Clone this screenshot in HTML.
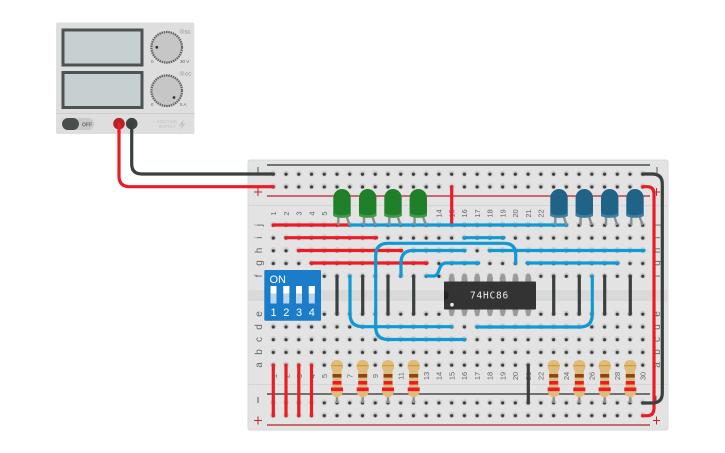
<!DOCTYPE html>
<html><head><meta charset="utf-8"><style>
html,body{margin:0;padding:0;background:#fff;width:725px;height:453px;overflow:hidden}
svg{display:block}
text{font-family:"Liberation Sans",sans-serif}
</style></head><body>
<svg width="725" height="453" viewBox="0 0 725 453" xmlns="http://www.w3.org/2000/svg">
<defs>
<pattern id="h" width="12.74" height="12.74" patternUnits="userSpaceOnUse">
<circle cx="6.37" cy="6" r="3" fill="#cdcdcd"/><circle cx="6.37" cy="6.6" r="1.6" fill="#3a3a3a"/>
</pattern>
<g id="res">
<line x1="0" y1="365" x2="0" y2="403" stroke="#8a8f8f" stroke-width="2.4"/>
<path d="M0 360C4 360 6 362 6 366V368C6 369 4.5 370 4.500 372V385C4.500 387 6 388 6 390V392C6 394 3 397 0 397.500C-3 397 -6 394 -6 392V390C-6 388 -4.500 387 -4.500 385V372C-4.500 370 -6 369 -6 368V366C-6 362 -4 360 0 360Z" fill="#e1bb7c"/>
<rect x="-6" y="365" width="12" height="1.200" fill="#c9a227"/>
<rect x="-4.500" y="374" width="9" height="3.600" fill="#8b4513"/>
<rect x="-4.500" y="381" width="9" height="3.600" fill="#ed1c24"/>
<rect x="-6" y="387.500" width="12" height="3.600" fill="#ed1c24"/>
</g>
<g id="ledg">
<path d="M-3.700 216V225M4.500 216L7.500 225" stroke="#8a8f8f" stroke-width="2.400" fill="none"/>
<path d="M-8.700 216V198C-8.700 192.500 -4.500 189 0 189C4.500 189 8.700 192.500 8.700 198V216C4 218 -4 218 -8.700 216Z" fill="#20802a"/>
<path d="M-8.700 213C-4 216 4 216 8.700 213V216C4 218.500 -4 218.500 -8.700 216Z" fill="#3f9a48"/>
</g>
<g id="ledb">
<path d="M-3.700 216V225M4.500 216L7.500 225" stroke="#8a8f8f" stroke-width="2.400" fill="none"/>
<path d="M-8.700 216V198C-8.700 192.500 -4.500 189 0 189C4.500 189 8.700 192.500 8.700 198V216C4 218 -4 218 -8.700 216Z" fill="#1f6488"/>
<path d="M-8.700 213C-4 216 4 216 8.700 213V216C4 218.500 -4 218.500 -8.700 216Z" fill="#3d7fa0"/>
</g>
<path id="pin" d="M-3 282V278L-1.500 274H1.500L3 278V282Z" fill="#9a9a9a"/>
<path id="pinb" d="M-3 309V311L-1.300 316H1.300L3 311V309Z" fill="#9a9a9a"/>
</defs>

<!-- Power supply -->
<rect x="56" y="22.500" width="138.500" height="111.500" rx="2" fill="#dedede"/>
<rect x="56" y="113" width="138.500" height="1" fill="#cfcfcf"/>
<rect x="63" y="30" width="79" height="35" fill="#c7d0d1" stroke="#4d5352" stroke-width="3"/>
<rect x="63" y="72.500" width="79" height="35" fill="#c7d0d1" stroke="#4d5352" stroke-width="3"/>
<circle cx="166.700" cy="47.300" r="15.300" fill="#c6c6c6" stroke="#5f6363" stroke-width="2.200" stroke-dasharray="1.500 0.800"/>
<circle cx="166.700" cy="47.300" r="13.500" fill="#c6c6c6"/>
<circle cx="156.800" cy="47.300" r="1.400" fill="#333"/>
<circle cx="166.700" cy="90.700" r="15.300" fill="#c6c6c6" stroke="#5f6363" stroke-width="2.200" stroke-dasharray="1.500 0.800"/>
<circle cx="166.700" cy="90.700" r="13.500" fill="#c6c6c6"/>
<circle cx="174" cy="97.500" r="1.400" fill="#333"/>
<circle cx="182" cy="31.500" r="2.500" fill="#c4c4c4"/><text x="185" y="33.500" font-size="4.500" fill="#777">5C</text>
<circle cx="182" cy="73.500" r="2.500" fill="#c4c4c4"/><text x="185" y="75.500" font-size="4.500" fill="#777">CC</text>
<text x="151" y="63" font-size="4.500" fill="#666">0</text><text x="180" y="63" font-size="4.500" fill="#666">30 V</text>
<text x="151" y="106" font-size="4.500" fill="#666">0</text><text x="180" y="106" font-size="4.500" fill="#666">5 A</text>
<rect x="62" y="118" width="32" height="12" rx="6" fill="#c9c9c9"/>
<rect x="62" y="118" width="17" height="12" rx="6" fill="#4a4d4d"/>
<text x="82" y="126.500" font-size="5" font-weight="bold" fill="#666">OFF</text>
<circle cx="119" cy="123.700" r="5.800" fill="#b5222a"/>
<circle cx="131.700" cy="123.700" r="5.800" fill="#3d4242"/>
<text x="167" y="123" font-size="4.500" fill="#c2c2c2" text-anchor="middle">VOLTAGE</text>
<text x="167" y="128" font-size="4.500" fill="#c2c2c2" text-anchor="middle">SUPPLY</text>
<path d="M184 119L179 125.500H182L180 130L185.500 123.500H182.500Z" fill="#c4c4c4"/>

<!-- Breadboard -->
<rect x="248" y="160" width="420" height="270" rx="2" fill="#e3e3e3" stroke="#d9d9d9" stroke-width="1"/>
<rect x="248.500" y="205" width="419" height="1" fill="#d6d6d6"/>
<rect x="248.500" y="384" width="419" height="1" fill="#d6d6d6"/>
<rect x="248.500" y="290" width="419" height="11" fill="#d9d9d9"/>
<line x1="267" y1="165" x2="650" y2="165" stroke="#2f2f2f" stroke-width="1.200"/>
<line x1="267" y1="196" x2="650" y2="196" stroke="#b5222a" stroke-width="1.200"/>
<line x1="267" y1="394" x2="650" y2="394" stroke="#2f2f2f" stroke-width="1.200"/>
<line x1="267" y1="425" x2="650" y2="425" stroke="#b5222a" stroke-width="1.200"/>
<g stroke="#555" stroke-width="1" fill="none">
<path d="M258 167V175"/><path d="M657 167V175"/><path d="M258 397V403"/><path d="M656 396V404"/>
</g>
<g stroke="#c1272d" stroke-width="1" fill="none">
<path d="M254 192H262M258 188V196"/><path d="M653 192H660M656.500 188V196"/>
<path d="M254 420.500H262M258 416.500V424.500"/><path d="M653 420.500H660M656.500 416.500V424.500"/>
</g>
<g transform="translate(266.930,167.600)"><rect width="382.200" height="25.480" fill="url(#h)"/></g>
<g transform="translate(266.930,218.700)"><rect width="382.200" height="63.700" fill="url(#h)"/></g>
<g transform="translate(266.930,307.600)"><rect width="382.200" height="63.700" fill="url(#h)"/></g>
<g transform="translate(266.930,396.300)"><rect width="382.200" height="25.480" fill="url(#h)"/></g>

<!-- Labels -->
<g font-size="7.500" fill="#666" text-anchor="middle">
<text transform="translate(276,213.500) rotate(-90)">1</text>
<text transform="translate(288.800,213.500) rotate(-90)">2</text>
<text transform="translate(301.500,213.500) rotate(-90)">3</text>
<text transform="translate(314.300,213.500) rotate(-90)">4</text>
<text transform="translate(327,213.500) rotate(-90)">5</text>
<text transform="translate(441.500,213.500) rotate(-90)">14</text>
<text transform="translate(454.300,213.500) rotate(-90)">15</text>
<text transform="translate(467,213.500) rotate(-90)">16</text>
<text transform="translate(479.800,213.500) rotate(-90)">17</text>
<text transform="translate(492.500,213.500) rotate(-90)">18</text>
<text transform="translate(505.300,213.500) rotate(-90)">19</text>
<text transform="translate(518,213.500) rotate(-90)">20</text>
<text transform="translate(530.800,213.500) rotate(-90)">21</text>
<text transform="translate(543.500,213.500) rotate(-90)">22</text>
<text transform="translate(327,376) rotate(-90)">5</text>
<text transform="translate(352.500,376) rotate(-90)">7</text>
<text transform="translate(378,376) rotate(-90)">9</text>
<text transform="translate(403.500,376) rotate(-90)">11</text>
<text transform="translate(429,376) rotate(-90)">13</text>
<text transform="translate(441.500,376) rotate(-90)">14</text>
<text transform="translate(454.300,376) rotate(-90)">15</text>
<text transform="translate(467,376) rotate(-90)">16</text>
<text transform="translate(479.800,376) rotate(-90)">17</text>
<text transform="translate(492.500,376) rotate(-90)">18</text>
<text transform="translate(505.300,376) rotate(-90)">19</text>
<text transform="translate(518,376) rotate(-90)">20</text>
<text transform="translate(530.800,376) rotate(-90)">21</text>
<text transform="translate(543.500,376) rotate(-90)">22</text>
<text transform="translate(569,376) rotate(-90)">24</text>
<text transform="translate(594.500,376) rotate(-90)">26</text>
<text transform="translate(620,376) rotate(-90)">28</text>
<text transform="translate(645.500,376) rotate(-90)">30</text>
<text transform="translate(277,376) rotate(-90)">1</text>
<text transform="translate(289.500,376) rotate(-90)">2</text>
<text transform="translate(302,376) rotate(-90)">3</text>
<text transform="translate(315,376) rotate(-90)">4</text>
</g>
<g font-size="10" fill="#666" text-anchor="middle">
<text transform="translate(262,225) rotate(-90)">j</text>
<text transform="translate(262,237.700) rotate(-90)">i</text>
<text transform="translate(262,250.500) rotate(-90)">h</text>
<text transform="translate(262,263) rotate(-90)">g</text>
<text transform="translate(262,276) rotate(-90)">f</text>
<text transform="translate(262,314) rotate(-90)">e</text>
<text transform="translate(262,327) rotate(-90)">d</text>
<text transform="translate(262,339.500) rotate(-90)">c</text>
<text transform="translate(262,352) rotate(-90)">b</text>
<text transform="translate(262,365) rotate(-90)">a</text>
<text transform="translate(660,225) rotate(-90)">j</text>
<text transform="translate(660,237.700) rotate(-90)">i</text>
<text transform="translate(660,250.500) rotate(-90)">h</text>
<text transform="translate(660,263) rotate(-90)">g</text>
<text transform="translate(660,276) rotate(-90)">f</text>
<text transform="translate(660,314) rotate(-90)">e</text>
<text transform="translate(660,327) rotate(-90)">d</text>
<text transform="translate(660,339.500) rotate(-90)">c</text>
<text transform="translate(660,352) rotate(-90)">b</text>
<text transform="translate(660,365) rotate(-90)">a</text>
</g>

<!-- Resistors -->
<use href="#res" x="337"/><use href="#res" x="362.700"/><use href="#res" x="388"/><use href="#res" x="413.700"/>
<use href="#res" x="553.700"/><use href="#res" x="579.300"/><use href="#res" x="604.700"/><use href="#res" x="630.300"/>

<!-- IC -->
<g>
<use href="#pin" x="451.700"/><use href="#pin" x="464.500"/><use href="#pin" x="477.200"/><use href="#pin" x="490"/><use href="#pin" x="502.700"/><use href="#pin" x="515.500"/><use href="#pin" x="528.300"/>
<use href="#pinb" x="451.700"/><use href="#pinb" x="464.500"/><use href="#pinb" x="477.200"/><use href="#pinb" x="490"/><use href="#pinb" x="502.700"/><use href="#pinb" x="515.500"/><use href="#pinb" x="528.300"/>
<rect x="444" y="281.500" width="92" height="28" rx="1" fill="#333"/>
<path d="M444 290.500A4.700 4.700 0 0 1 444 300Z" fill="#222"/>
<circle cx="452" cy="304.700" r="1.800" fill="#eee"/>
<text x="489.500" y="298.700" font-size="9.500" fill="#eee" text-anchor="middle" letter-spacing="0.800" style="font-family:'DejaVu Sans Mono',monospace">74HC86</text>
</g>

<!-- Black jumpers -->
<g stroke="#3a3f3f" stroke-width="3.200" fill="none" stroke-linecap="round">
<path d="M337 276V314M362.700 276V314M388 276V314M413.700 276V314"/>
<path d="M553.700 276V314M579.300 276V314M604.700 276V314M630.300 276V314"/>
<path d="M528.300 365V403"/>
</g>
<!-- Red jumpers -->
<g stroke="#ed1c24" stroke-width="3.200" fill="none" stroke-linecap="round">
<path d="M273.300 225H350M285.700 237.700H376.700M298.300 250.500H401.700M311 263H427"/>
<path d="M451.700 186.700V225"/>
<path d="M273.300 365V415.700M286 365V415.700M298.800 365V415.700M311.500 365V415.700"/>
<path d="M642.700 186.700H647Q654 186.700 654 194V408Q654 415.700 647 415.700H642.700"/>
</g>
<path d="M642.700 174H652Q662.300 174 662.300 184V393Q662.300 403 652 403H642.700" stroke="#3a3f3f" stroke-width="3.200" fill="none" stroke-linecap="round"/>
<!-- Blue jumpers -->
<g stroke="#0f9ad6" stroke-width="3.200" fill="none" stroke-linecap="round">
<path d="M350 225H566.700"/>
<path d="M464 237.700H504"/>
<path d="M515.700 263V255Q515.700 243.300 504 243.300H388Q375.700 243.300 375.700 256V327Q375.700 339.500 388 339.500H465"/>
<path d="M401 276V263Q401 250.500 413 250.500H465"/>
<path d="M426.700 276H434C440 276 438 263 446 263H478.700"/>
<path d="M489.300 250.500H644"/>
<path d="M527 263H618"/>
<path d="M350 276V314Q350 326.700 363 326.700H451.700"/>
<path d="M476.700 327H580Q592.300 327 592.300 314V276"/>
</g>
<!-- LEDs -->
<use href="#ledg" x="342"/><use href="#ledg" x="367.700"/><use href="#ledg" x="393"/><use href="#ledg" x="418.300"/>
<use href="#ledb" x="559"/><use href="#ledb" x="584.300"/><use href="#ledb" x="609.700"/><use href="#ledb" x="635"/>

<!-- DIP -->
<rect x="264.300" y="270" width="56.700" height="50.700" rx="1" fill="#1b7cc9"/>
<text x="269.500" y="283" font-size="11" fill="#fff">ON</text>
<g>
<rect x="270.500" y="286" width="6" height="17.500" fill="#bcd6e8"/><rect x="270.500" y="286" width="6" height="7.500" fill="#fff"/>
<rect x="283.300" y="286" width="6" height="17.500" fill="#bcd6e8"/><rect x="283.300" y="286" width="6" height="7.500" fill="#fff"/>
<rect x="296" y="286" width="6" height="17.500" fill="#bcd6e8"/><rect x="296" y="286" width="6" height="7.500" fill="#fff"/>
<rect x="308.800" y="286" width="6" height="17.500" fill="#bcd6e8"/><rect x="308.800" y="286" width="6" height="7.500" fill="#fff"/>
</g>
<g font-size="11" fill="#fff" text-anchor="middle">
<text x="273.500" y="316">1</text><text x="286.300" y="316">2</text><text x="299" y="316">3</text><text x="311.800" y="316">4</text>
</g>

<!-- Supply leads -->
<path d="M119 124V176Q119 186.700 130 186.700H273.300" stroke="#ed1c24" stroke-width="3.200" fill="none" stroke-linecap="round"/>
<path d="M131.700 124V164Q131.700 174 142 174H273.300" stroke="#3a3f3f" stroke-width="3.200" fill="none" stroke-linecap="round"/>
</svg>
</body></html>
